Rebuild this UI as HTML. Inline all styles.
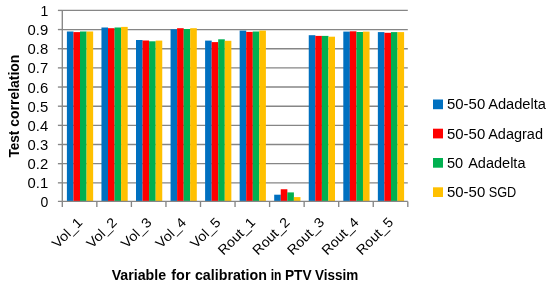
<!DOCTYPE html>
<html><head><meta charset="utf-8"><title>Test correlation chart</title>
<style>
html,body{margin:0;padding:0;background:#fff;}
body{width:550px;height:285px;overflow:hidden;}
svg{display:block;}
text{font-family:"Liberation Sans",sans-serif;fill:#000;}
.b{font-weight:bold;}
</style></head><body>
<svg width="550" height="285" viewBox="0 0 550 285">
<rect width="550" height="285" fill="#fff"/>
<g stroke="#868686" stroke-width="1.35" fill="none">
<line x1="62.30" y1="10.40" x2="407.80" y2="10.40"/>
<line x1="62.30" y1="29.56" x2="407.80" y2="29.56"/>
<line x1="62.30" y1="48.72" x2="407.80" y2="48.72"/>
<line x1="62.30" y1="67.88" x2="407.80" y2="67.88"/>
<line x1="62.30" y1="87.04" x2="407.80" y2="87.04"/>
<line x1="62.30" y1="106.20" x2="407.80" y2="106.20"/>
<line x1="62.30" y1="125.36" x2="407.80" y2="125.36"/>
<line x1="62.30" y1="144.52" x2="407.80" y2="144.52"/>
<line x1="62.30" y1="163.68" x2="407.80" y2="163.68"/>
<line x1="62.30" y1="182.84" x2="407.80" y2="182.84"/>
</g>
<rect x="66.90" y="31.50" width="6.60" height="169.90" fill="#0070C0"/>
<rect x="73.45" y="32.10" width="6.60" height="169.30" fill="#FF0000"/>
<rect x="80.00" y="31.50" width="6.60" height="169.90" fill="#00B050"/>
<rect x="86.55" y="31.50" width="6.60" height="169.90" fill="#FFC000"/>
<rect x="101.45" y="27.50" width="6.60" height="173.90" fill="#0070C0"/>
<rect x="108.00" y="28.20" width="6.60" height="173.20" fill="#FF0000"/>
<rect x="114.55" y="27.50" width="6.60" height="173.90" fill="#00B050"/>
<rect x="121.10" y="26.90" width="6.60" height="174.50" fill="#FFC000"/>
<rect x="136.00" y="40.00" width="6.60" height="161.40" fill="#0070C0"/>
<rect x="142.55" y="40.50" width="6.60" height="160.90" fill="#FF0000"/>
<rect x="149.10" y="41.30" width="6.60" height="160.10" fill="#00B050"/>
<rect x="155.65" y="40.60" width="6.60" height="160.80" fill="#FFC000"/>
<rect x="170.55" y="29.30" width="6.60" height="172.10" fill="#0070C0"/>
<rect x="177.10" y="28.20" width="6.60" height="173.20" fill="#FF0000"/>
<rect x="183.65" y="29.00" width="6.60" height="172.40" fill="#00B050"/>
<rect x="190.20" y="28.20" width="6.60" height="173.20" fill="#FFC000"/>
<rect x="205.10" y="40.60" width="6.60" height="160.80" fill="#0070C0"/>
<rect x="211.65" y="42.10" width="6.60" height="159.30" fill="#FF0000"/>
<rect x="218.20" y="39.30" width="6.60" height="162.10" fill="#00B050"/>
<rect x="224.75" y="40.80" width="6.60" height="160.60" fill="#FFC000"/>
<rect x="239.65" y="30.60" width="6.60" height="170.80" fill="#0070C0"/>
<rect x="246.20" y="31.90" width="6.60" height="169.50" fill="#FF0000"/>
<rect x="252.75" y="31.50" width="6.60" height="169.90" fill="#00B050"/>
<rect x="259.30" y="30.60" width="6.60" height="170.80" fill="#FFC000"/>
<rect x="274.20" y="194.70" width="6.60" height="6.70" fill="#0070C0"/>
<rect x="280.75" y="189.25" width="6.60" height="12.15" fill="#FF0000"/>
<rect x="287.30" y="192.40" width="6.60" height="9.00" fill="#00B050"/>
<rect x="293.85" y="197.10" width="6.60" height="4.30" fill="#FFC000"/>
<rect x="308.75" y="35.20" width="6.60" height="166.20" fill="#0070C0"/>
<rect x="315.30" y="35.90" width="6.60" height="165.50" fill="#FF0000"/>
<rect x="321.85" y="35.90" width="6.60" height="165.50" fill="#00B050"/>
<rect x="328.40" y="36.70" width="6.60" height="164.70" fill="#FFC000"/>
<rect x="343.30" y="31.60" width="6.60" height="169.80" fill="#0070C0"/>
<rect x="349.85" y="31.30" width="6.60" height="170.10" fill="#FF0000"/>
<rect x="356.40" y="32.00" width="6.60" height="169.40" fill="#00B050"/>
<rect x="362.95" y="31.60" width="6.60" height="169.80" fill="#FFC000"/>
<rect x="377.85" y="32.10" width="6.60" height="169.30" fill="#0070C0"/>
<rect x="384.40" y="32.80" width="6.60" height="168.60" fill="#FF0000"/>
<rect x="390.95" y="32.10" width="6.60" height="169.30" fill="#00B050"/>
<rect x="397.50" y="32.10" width="6.60" height="169.30" fill="#FFC000"/>
<g stroke="#868686" stroke-width="1.35" fill="none">
<line x1="62.30" y1="9.90" x2="62.30" y2="207.00"/>
<line x1="57.90" y1="201.40" x2="407.80" y2="201.40"/>
<line x1="57.90" y1="10.40" x2="62.30" y2="10.40"/>
<line x1="57.90" y1="29.56" x2="62.30" y2="29.56"/>
<line x1="57.90" y1="48.72" x2="62.30" y2="48.72"/>
<line x1="57.90" y1="67.88" x2="62.30" y2="67.88"/>
<line x1="57.90" y1="87.04" x2="62.30" y2="87.04"/>
<line x1="57.90" y1="106.20" x2="62.30" y2="106.20"/>
<line x1="57.90" y1="125.36" x2="62.30" y2="125.36"/>
<line x1="57.90" y1="144.52" x2="62.30" y2="144.52"/>
<line x1="57.90" y1="163.68" x2="62.30" y2="163.68"/>
<line x1="57.90" y1="182.84" x2="62.30" y2="182.84"/>
<line x1="96.85" y1="201.40" x2="96.85" y2="207.00"/>
<line x1="131.40" y1="201.40" x2="131.40" y2="207.00"/>
<line x1="165.95" y1="201.40" x2="165.95" y2="207.00"/>
<line x1="200.50" y1="201.40" x2="200.50" y2="207.00"/>
<line x1="235.05" y1="201.40" x2="235.05" y2="207.00"/>
<line x1="269.60" y1="201.40" x2="269.60" y2="207.00"/>
<line x1="304.15" y1="201.40" x2="304.15" y2="207.00"/>
<line x1="338.70" y1="201.40" x2="338.70" y2="207.00"/>
<line x1="373.25" y1="201.40" x2="373.25" y2="207.00"/>
<line x1="407.80" y1="201.40" x2="407.80" y2="207.00"/>
</g>
<text x="48.2" y="15.90" font-size="14.0" text-anchor="end">1</text>
<text x="27.6" y="35.06" font-size="14.0" textLength="20.6" lengthAdjust="spacingAndGlyphs">0.9</text>
<text x="27.6" y="54.22" font-size="14.0" textLength="20.6" lengthAdjust="spacingAndGlyphs">0.8</text>
<text x="27.6" y="73.38" font-size="14.0" textLength="20.6" lengthAdjust="spacingAndGlyphs">0.7</text>
<text x="27.6" y="92.54" font-size="14.0" textLength="20.6" lengthAdjust="spacingAndGlyphs">0.6</text>
<text x="27.6" y="111.70" font-size="14.0" textLength="20.6" lengthAdjust="spacingAndGlyphs">0.5</text>
<text x="27.6" y="130.86" font-size="14.0" textLength="20.6" lengthAdjust="spacingAndGlyphs">0.4</text>
<text x="27.6" y="150.02" font-size="14.0" textLength="20.6" lengthAdjust="spacingAndGlyphs">0.3</text>
<text x="27.6" y="169.18" font-size="14.0" textLength="20.6" lengthAdjust="spacingAndGlyphs">0.2</text>
<text x="27.6" y="188.34" font-size="14.0" textLength="20.6" lengthAdjust="spacingAndGlyphs">0.1</text>
<text x="48.2" y="206.90" font-size="14.0" text-anchor="end">0</text>
<text transform="translate(83.27 223.20) rotate(-45)" x="-36.50" y="0" font-size="13.6" textLength="36.5" lengthAdjust="spacingAndGlyphs">Vol_1</text>
<text transform="translate(117.83 223.20) rotate(-45)" x="-36.50" y="0" font-size="13.6" textLength="36.5" lengthAdjust="spacingAndGlyphs">Vol_2</text>
<text transform="translate(152.38 223.20) rotate(-45)" x="-36.50" y="0" font-size="13.6" textLength="36.5" lengthAdjust="spacingAndGlyphs">Vol_3</text>
<text transform="translate(186.92 223.20) rotate(-45)" x="-36.50" y="0" font-size="13.6" textLength="36.5" lengthAdjust="spacingAndGlyphs">Vol_4</text>
<text transform="translate(221.47 223.20) rotate(-45)" x="-36.50" y="0" font-size="13.6" textLength="36.5" lengthAdjust="spacingAndGlyphs">Vol_5</text>
<text transform="translate(256.02 223.20) rotate(-45)" x="-45.90" y="0" font-size="13.6" textLength="45.9" lengthAdjust="spacingAndGlyphs">Rout_1</text>
<text transform="translate(290.57 223.20) rotate(-45)" x="-45.90" y="0" font-size="13.6" textLength="45.9" lengthAdjust="spacingAndGlyphs">Rout_2</text>
<text transform="translate(325.12 223.20) rotate(-45)" x="-45.90" y="0" font-size="13.6" textLength="45.9" lengthAdjust="spacingAndGlyphs">Rout_3</text>
<text transform="translate(359.67 223.20) rotate(-45)" x="-45.90" y="0" font-size="13.6" textLength="45.9" lengthAdjust="spacingAndGlyphs">Rout_4</text>
<text transform="translate(394.22 223.20) rotate(-45)" x="-45.90" y="0" font-size="13.6" textLength="45.9" lengthAdjust="spacingAndGlyphs">Rout_5</text>
<text class="b" transform="translate(18.6 0) rotate(-90)" font-size="13.9"><tspan x="-157.6" y="0" textLength="27" lengthAdjust="spacingAndGlyphs">Test</tspan> <tspan x="-126.7" y="0" textLength="72" lengthAdjust="spacingAndGlyphs">correlation</tspan></text>
<text class="b" y="279.7" font-size="14.2"><tspan x="111.7" textLength="54.4" lengthAdjust="spacingAndGlyphs">Variable</tspan> <tspan x="171.3" textLength="19.2" lengthAdjust="spacingAndGlyphs">for</tspan> <tspan x="194.9" textLength="72.1" lengthAdjust="spacingAndGlyphs">calibration</tspan> <tspan x="270.7" textLength="10.8" lengthAdjust="spacingAndGlyphs">in</tspan> <tspan x="284.9" textLength="26.7" lengthAdjust="spacingAndGlyphs">PTV</tspan> <tspan x="314.9" textLength="43.3" lengthAdjust="spacingAndGlyphs">Vissim</tspan> </text>
<rect x="433" y="99.50" width="10" height="9.7" fill="#0070C0"/>
<text y="109.30" font-size="14.0"><tspan x="447.0" textLength="38.2" lengthAdjust="spacingAndGlyphs">50-50</tspan> <tspan x="488.2" textLength="57.8" lengthAdjust="spacingAndGlyphs">Adadelta</tspan> </text>
<rect x="433" y="128.70" width="10" height="9.7" fill="#FF0000"/>
<text y="138.60" font-size="14.0"><tspan x="447.0" textLength="38.2" lengthAdjust="spacingAndGlyphs">50-50</tspan> <tspan x="488.2" textLength="54.8" lengthAdjust="spacingAndGlyphs">Adagrad</tspan> </text>
<rect x="433" y="158.00" width="10" height="9.7" fill="#00B050"/>
<text y="167.70" font-size="14.0"><tspan x="447.0" textLength="16.2" lengthAdjust="spacingAndGlyphs">50</tspan> <tspan x="468.2" textLength="57.3" lengthAdjust="spacingAndGlyphs">Adadelta</tspan> </text>
<rect x="433" y="187.30" width="10" height="9.7" fill="#FFC000"/>
<text y="197.00" font-size="14.0"><tspan x="447.0" textLength="38.2" lengthAdjust="spacingAndGlyphs">50-50</tspan> <tspan x="488.7" textLength="27.6" lengthAdjust="spacingAndGlyphs">SGD</tspan> </text>
</svg>
</body></html>
